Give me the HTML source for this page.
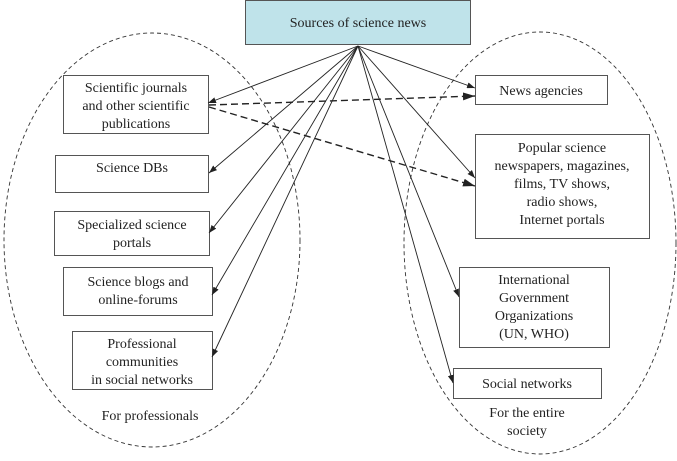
<!DOCTYPE html>
<html><head><style>
html,body{margin:0;padding:0;background:#fff;}
svg text{font-family:"Liberation Serif","Times New Roman",serif;font-size:14px;fill:#222;}
</style></head><body>
<svg width="677" height="456" viewBox="0 0 677 456" xmlns="http://www.w3.org/2000/svg">
<defs>
<marker id="a" markerWidth="8" markerHeight="6" refX="8" refY="3" orient="auto" markerUnits="userSpaceOnUse"><path d="M0,0 L8,3 L0,6 Z" fill="#222"/></marker>
<marker id="b" markerWidth="12" markerHeight="8" refX="12" refY="4" orient="auto" markerUnits="userSpaceOnUse"><path d="M0,0 L12,4 L0,8 Z" fill="#222"/></marker>
</defs>
<ellipse cx="152" cy="240" rx="148" ry="207" fill="none" stroke="#333" stroke-width="0.9" stroke-dasharray="4,3"/>
<ellipse cx="540" cy="243" rx="136" ry="211" fill="none" stroke="#333" stroke-width="0.9" stroke-dasharray="4,3"/>
<rect x="245.5" y="0.5" width="225" height="44" fill="#bfe3ea" stroke="#555"/>
<text x="358" y="27" text-anchor="middle">Sources of science news</text>
<g fill="#fff" stroke="#555">
<rect x="63.5" y="75.5" width="145" height="58"/>
<rect x="55.5" y="155.5" width="153" height="37"/>
<rect x="54.5" y="211.5" width="155" height="44"/>
<rect x="63.5" y="267.5" width="149" height="48"/>
<rect x="72.5" y="331.5" width="140" height="58"/>
<rect x="475.5" y="75.5" width="132" height="29"/>
<rect x="475.5" y="134.5" width="174" height="104"/>
<rect x="459.5" y="267.5" width="150" height="80"/>
<rect x="453.5" y="368.5" width="148" height="30"/>
</g>
<g stroke="#222" stroke-width="0.9" fill="none" marker-end="url(#a)">
<line x1="358" y1="46" x2="208" y2="103"/>
<line x1="358" y1="46" x2="209" y2="173"/>
<line x1="358" y1="46" x2="209" y2="233"/>
<line x1="358" y1="46" x2="212" y2="295"/>
<line x1="358" y1="46" x2="212" y2="357"/>
<line x1="358" y1="46" x2="475" y2="88"/>
<line x1="358" y1="46" x2="475" y2="178"/>
<line x1="358" y1="46" x2="459" y2="297"/>
<line x1="358" y1="46" x2="453" y2="383"/>
</g>
<g stroke="#222" stroke-width="1.4" fill="none" stroke-dasharray="7,4" marker-end="url(#b)">
<line x1="209" y1="105" x2="475" y2="96"/>
<line x1="209" y1="107" x2="475" y2="186"/>
</g>
<g text-anchor="middle">
<text x="136" y="92">Scientific journals</text>
<text x="136" y="110">and other scientific</text>
<text x="136" y="128">publications</text>
<text x="132" y="172">Science DBs</text>
<text x="132" y="229">Specialized science</text>
<text x="132" y="247">portals</text>
<text x="138" y="286">Science blogs and</text>
<text x="138" y="304">online-forums</text>
<text x="142" y="348">Professional</text>
<text x="142" y="366">communities</text>
<text x="142" y="384">in social networks</text>
<text x="150" y="420">For professionals</text>
<text x="541" y="95">News agencies</text>
<text x="562" y="152">Popular science</text>
<text x="562" y="170">newspapers, magazines,</text>
<text x="562" y="188">films, TV shows,</text>
<text x="562" y="206">radio shows,</text>
<text x="562" y="224">Internet portals</text>
<text x="534" y="284">International</text>
<text x="534" y="302">Government</text>
<text x="534" y="320">Organizations</text>
<text x="534" y="338">(UN, WHO)</text>
<text x="527" y="388">Social networks</text>
<text x="527" y="417">For the entire</text>
<text x="527" y="435">society</text>
</g>
</svg>
</body></html>
